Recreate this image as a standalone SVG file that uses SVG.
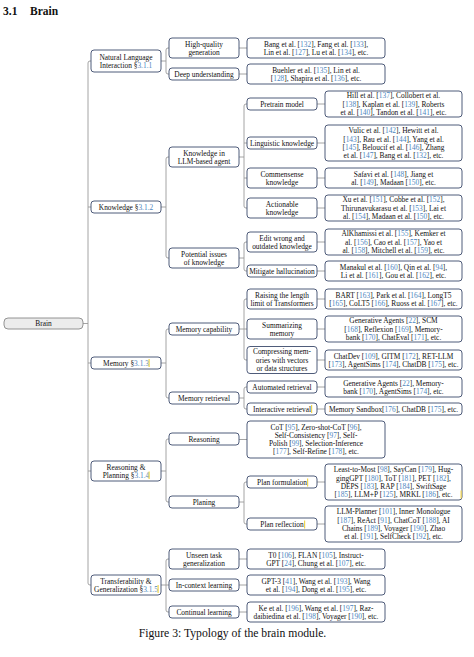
<svg xmlns="http://www.w3.org/2000/svg" width="474" height="657" viewBox="0 0 474 657">
<style>
text{font-family:"Liberation Serif","Times New Roman",serif;font-size:7.4px;fill:#111;text-anchor:middle}
.n rect{fill:#fff;stroke:#3b4a6b;stroke-width:0.9}
.c{fill:#4d86c0}
.k path{fill:none;stroke:#9a9a9a;stroke-width:0.9}
.n rect.hl{fill:#f3d54e;stroke:none}
.t{font-size:11.5px;font-weight:bold;text-anchor:start}
.cap{font-size:11.7px}
</style>
<rect width="474" height="657" fill="#fff"/>
<text class="t" x="3" y="15">3.1</text><text class="t" x="30" y="15">Brain</text>
<text class="cap" x="232.5" y="637">Figure 3: Typology of the brain module.</text>

<g class="k" id="connectors">
<path d="M83 323.5H88"/>
<path d="M91 61H90Q88 61 88 63V583Q88 585 90 585H91M88 207H91M88 363H91M88 471H91"/>
<path d="M161 61H166M169 48H168Q166 48 166 50V72Q166 74 168 74H169"/>
<path d="M161 207H166M169 157H168Q166 157 166 159V256Q166 258 168 258H169"/>
<path d="M161 363H166M169 329H168Q166 329 166 331V396Q166 398 168 398H169"/>
<path d="M161 471H166M169 439H168Q166 439 166 441V500Q166 502 168 502H169"/>
<path d="M161 585H166M169 559H168Q166 559 166 561V610Q166 612 168 612H169M166 585H169"/>
<path d="M239 48H247M239 74H247M239 439.5H247M239 559H247M239 585H247M239 612H247"/>
<path d="M239 157H244M247 104H246Q244 104 244 106V206Q244 208 246 208H247M244 143H247M244 178H247"/>
<path d="M239 258H244M247 242H246Q244 242 244 244V269Q244 271 246 271H247"/>
<path d="M239 329H244M247 299H246Q244 299 244 301V358Q244 360 246 360H247M244 329H247"/>
<path d="M239 398H244M247 387H246Q244 387 244 389V407Q244 409 246 409H247"/>
<path d="M239 502H244M247 482H246Q244 482 244 484V522Q244 524 246 524H247"/>
<path d="M317 104H325M317 143H325M317 178H325M317 208H325M317 242H325M317 271H325M317 299H325M317 329H325M317 360H325M317 387H325M317 409H325M317 482H325M317 524H325"/>
</g>

<g id="brain"><rect x="4" y="318" width="79" height="11" rx="4" fill="#ececec" stroke="#888" stroke-width="0.9"/><text x="43.5" y="326.2">Brain</text></g>

<g class="n" id="nli"><rect x="91" y="50" width="70" height="22" rx="3"/><text x="126"><tspan x="126" y="59.5">Natural Language</tspan><tspan x="126" y="67.7">Interaction §<tspan class="c">3.1.1</tspan></tspan></text></g>
<g class="n" id="knowledge"><rect x="91" y="201" width="70" height="12" rx="3"/><text x="126" y="209.6">Knowledge §<tspan class="c">3.1.2</tspan></text></g>
<g class="n" id="memory"><rect x="91" y="357" width="70" height="12" rx="3"/><text x="126" y="365.6">Memory §<tspan class="c">3.1.3</tspan></text><rect class="hl" x="148.5" y="359" width="1.2" height="8"/></g>
<g class="n" id="reasoning-planning"><rect x="91" y="461" width="70" height="20" rx="3"/><text x="126"><tspan x="126" y="469.5">Reasoning &amp;</tspan><tspan x="126" y="477.7">Planning §<tspan class="c">3.1.4</tspan></tspan></text><rect class="hl" x="148.5" y="471.5" width="1.2" height="7.5"/></g>
<g class="n" id="transfer"><rect x="91" y="575" width="70" height="20" rx="3"/><text x="126"><tspan x="126" y="583.5">Transferability &amp;</tspan><tspan x="126" y="591.7">Generalization §<tspan class="c">3.1.5</tspan></tspan></text><rect class="hl" x="157.5" y="585" width="1.2" height="8"/></g>

<g class="n" id="hq"><rect x="169" y="38" width="70" height="20" rx="3"/><text><tspan x="204" y="46.5">High-quality</tspan><tspan x="204" y="54.7">generation</tspan></text></g>
<g class="n" id="deep"><rect x="169" y="68" width="70" height="12" rx="3"/><text x="204" y="76.6">Deep understanding</text></g>
<g class="n" id="kllm"><rect x="169" y="147" width="70" height="20" rx="3"/><text><tspan x="204" y="155.5">Knowledge in</tspan><tspan x="204" y="163.7">LLM-based agent</tspan></text></g>
<g class="n" id="potential"><rect x="169" y="248" width="70" height="20" rx="3"/><text><tspan x="204" y="256.5">Potential issues</tspan><tspan x="204" y="264.7">of knowledge</tspan></text></g>
<g class="n" id="memcap"><rect x="169" y="323" width="70" height="12" rx="3"/><text x="204" y="331.6">Memory capability</text></g>
<g class="n" id="memret"><rect x="169" y="392" width="70" height="12" rx="3"/><text x="204" y="400.6">Memory retrieval</text></g>
<g class="n" id="reasoning"><rect x="169" y="433" width="70" height="12" rx="3"/><text x="204" y="441.6">Reasoning</text></g>
<g class="n" id="planing"><rect x="169" y="496" width="70" height="12" rx="3"/><text x="204" y="504.6">Planing</text></g>
<g class="n" id="unseen"><rect x="169" y="549" width="70" height="20" rx="3"/><text><tspan x="204" y="557.5">Unseen task</tspan><tspan x="204" y="565.7">generalization</tspan></text></g>
<g class="n" id="icl"><rect x="169" y="579" width="70" height="12" rx="3"/><text x="204" y="587.6">In-context learning</text></g>
<g class="n" id="continual"><rect x="169" y="606" width="70" height="12" rx="3"/><text x="204" y="614.6">Continual learning</text></g>

<g class="n" id="pretrain"><rect x="247" y="98" width="70" height="12" rx="3"/><text x="282" y="106.6">Pretrain model</text></g>
<g class="n" id="linguistic"><rect x="247" y="137" width="70" height="12" rx="3"/><text x="282" y="145.6">Linguistic knowledge</text></g>
<g class="n" id="commonsense"><rect x="247" y="168" width="70" height="20" rx="3"/><text><tspan x="282" y="176.5">Commensense</tspan><tspan x="282" y="184.7">knowledge</tspan></text></g>
<g class="n" id="actionable"><rect x="247" y="198" width="70" height="20" rx="3"/><text><tspan x="282" y="206.5">Actionable</tspan><tspan x="282" y="214.7">knowledge</tspan></text></g>
<g class="n" id="edit"><rect x="247" y="232" width="70" height="20" rx="3"/><text><tspan x="282" y="240.5">Edit wrong and</tspan><tspan x="282" y="248.7">outdated knowledge</tspan></text></g>
<g class="n" id="mitigate"><rect x="247" y="265" width="70" height="12" rx="3"/><text x="282" y="273.6">Mitigate hallucination</text></g>
<g class="n" id="raising"><rect x="247" y="289" width="70" height="20" rx="3"/><text><tspan x="282" y="297.5">Raising the length</tspan><tspan x="282" y="305.7">limit of Transformers</tspan></text></g>
<g class="n" id="summarizing"><rect x="247" y="319" width="70" height="20" rx="3"/><text><tspan x="282" y="327.5">Summarizing</tspan><tspan x="282" y="335.7">memory</tspan></text></g>
<g class="n" id="compressing"><rect x="247" y="346.5" width="70" height="27" rx="3"/><text><tspan x="282" y="354.4">Compressing mem-</tspan><tspan x="282" y="362.6">ories with vectors</tspan><tspan x="282" y="370.8">or data structures</tspan></text></g>
<g class="n" id="automated"><rect x="247" y="381" width="70" height="12" rx="3"/><text x="282" y="389.6">Automated retrieval</text></g>
<g class="n" id="interactive"><rect x="247" y="403" width="70" height="12" rx="3"/><text x="282" y="411.6">Interactive retrieval</text><rect class="hl" x="311" y="405" width="1.2" height="8"/></g>
<g class="n" id="planform"><rect x="247" y="476" width="70" height="12" rx="3"/><text x="282" y="484.6">Plan formulation</text><rect class="hl" x="307" y="478.5" width="1.2" height="8"/></g>
<g class="n" id="planrefl"><rect x="247" y="518" width="70" height="12" rx="3"/><text x="282" y="526.6">Plan reflection</text><rect class="hl" x="304" y="520.5" width="1.2" height="8"/></g>

<g class="n" id="leaf-hq"><rect x="247" y="38" width="138" height="20" rx="3"/><text><tspan x="316" y="46.5">Bang et al. [<tspan class="c">132</tspan>], Fang et al. [<tspan class="c">133</tspan>],</tspan><tspan x="316" y="54.7">Lin et al. [<tspan class="c">127</tspan>], Lu et al. [<tspan class="c">134</tspan>], etc.</tspan></text></g>
<g class="n" id="leaf-deep"><rect x="247" y="64" width="138" height="20" rx="3"/><text><tspan x="316" y="72.5">Buehler et al. [<tspan class="c">135</tspan>], Lin et al.</tspan><tspan x="316" y="80.7">[<tspan class="c">128</tspan>], Shapira et al. [<tspan class="c">136</tspan>], etc.</tspan></text></g>
<g class="n" id="leaf-reasoning"><rect x="247" y="421" width="138" height="37" rx="3"/><text><tspan x="316" y="429.8">CoT [<tspan class="c">95</tspan>], Zero-shot-CoT [<tspan class="c">96</tspan>],</tspan><tspan x="316" y="438">Self-Consistency [<tspan class="c">97</tspan>], Self-</tspan><tspan x="316" y="446.2">Polish [<tspan class="c">99</tspan>], Selection-Inference</tspan><tspan x="316" y="454.4">[<tspan class="c">177</tspan>], Self-Refine [<tspan class="c">178</tspan>], etc.</tspan></text></g>
<g class="n" id="leaf-unseen"><rect x="247" y="549" width="138" height="20" rx="3"/><text><tspan x="316" y="557.5">T0 [<tspan class="c">106</tspan>], FLAN [<tspan class="c">105</tspan>], Instruct-</tspan><tspan x="316" y="565.7">GPT [<tspan class="c">24</tspan>], Chung et al. [<tspan class="c">107</tspan>], etc.</tspan></text></g>
<g class="n" id="leaf-icl"><rect x="247" y="575" width="138" height="20" rx="3"/><text><tspan x="316" y="583.5">GPT-3 [<tspan class="c">41</tspan>], Wang et al. [<tspan class="c">193</tspan>], Wang</tspan><tspan x="316" y="591.7">et al. [<tspan class="c">194</tspan>], Dong et al. [<tspan class="c">195</tspan>], etc.</tspan></text></g>
<g class="n" id="leaf-continual"><rect x="247" y="602" width="138" height="20" rx="3"/><text><tspan x="316" y="610.5">Ke et al. [<tspan class="c">196</tspan>], Wang et al. [<tspan class="c">197</tspan>], Raz-</tspan><tspan x="316" y="618.7">daibiedina et al. [<tspan class="c">198</tspan>], Voyager [<tspan class="c">190</tspan>], etc.</tspan></text></g>

<g class="n" id="leaf-pretrain"><rect x="325" y="91" width="137" height="26" rx="3"/><text><tspan x="393.5" y="98.4">Hill et al. [<tspan class="c">137</tspan>], Collobert et al.</tspan><tspan x="393.5" y="106.6">[<tspan class="c">138</tspan>], Kaplan et al. [<tspan class="c">139</tspan>], Roberts</tspan><tspan x="393.5" y="114.8">et al. [<tspan class="c">140</tspan>], Tandon et al. [<tspan class="c">141</tspan>], etc.</tspan></text></g>
<g class="n" id="leaf-linguistic"><rect x="325" y="125" width="137" height="36" rx="3"/><text><tspan x="393.5" y="133.3">Vulic et al. [<tspan class="c">142</tspan>], Hewitt et al.</tspan><tspan x="393.5" y="141.5">[<tspan class="c">143</tspan>], Rau et al. [<tspan class="c">144</tspan>], Yang et al.</tspan><tspan x="393.5" y="149.7">[<tspan class="c">145</tspan>], Beloucif et al. [<tspan class="c">146</tspan>], Zhang</tspan><tspan x="393.5" y="157.9">et al. [<tspan class="c">147</tspan>], Bang et al. [<tspan class="c">132</tspan>], etc.</tspan></text></g>
<g class="n" id="leaf-commonsense"><rect x="325" y="168" width="137" height="20" rx="3"/><text><tspan x="393.5" y="176.5">Safavi et al. [<tspan class="c">148</tspan>], Jiang et</tspan><tspan x="393.5" y="184.7">al. [<tspan class="c">149</tspan>], Madaan [<tspan class="c">150</tspan>], etc.</tspan></text></g>
<g class="n" id="leaf-actionable"><rect x="325" y="195" width="137" height="26" rx="3"/><text><tspan x="393.5" y="202.4">Xu et al. [<tspan class="c">151</tspan>], Cobbe et al. [<tspan class="c">152</tspan>],</tspan><tspan x="393.5" y="210.6">Thirunavukarasu et al. [<tspan class="c">153</tspan>], Lai et</tspan><tspan x="393.5" y="218.8">al. [<tspan class="c">154</tspan>], Madaan et al. [<tspan class="c">150</tspan>], etc.</tspan></text></g>
<g class="n" id="leaf-edit"><rect x="325" y="229" width="137" height="26" rx="3"/><text><tspan x="393.5" y="236.4">AlKhamissi et al. [<tspan class="c">155</tspan>], Kemker et</tspan><tspan x="393.5" y="244.6">al. [<tspan class="c">156</tspan>], Cao et al. [<tspan class="c">157</tspan>], Yao et</tspan><tspan x="393.5" y="252.8">al. [<tspan class="c">158</tspan>], Mitchell et al. [<tspan class="c">159</tspan>], etc.</tspan></text></g>
<g class="n" id="leaf-mitigate"><rect x="325" y="261" width="137" height="20" rx="3"/><text><tspan x="393.5" y="269.5">Manakul et al. [<tspan class="c">160</tspan>], Qin et al. [<tspan class="c">94</tspan>],</tspan><tspan x="393.5" y="277.7">Li et al. [<tspan class="c">161</tspan>], Gou et al. [<tspan class="c">162</tspan>], etc.</tspan></text></g>
<g class="n" id="leaf-raising"><rect x="325" y="289" width="137" height="20" rx="3"/><text><tspan x="393.5" y="297.5">BART [<tspan class="c">163</tspan>], Park et al. [<tspan class="c">164</tspan>], LongT5</tspan><tspan x="393.5" y="305.7">[<tspan class="c">165</tspan>], CoLT5 [<tspan class="c">166</tspan>], Ruoss et al. [<tspan class="c">167</tspan>], etc.</tspan></text></g>
<g class="n" id="leaf-summarizing"><rect x="325" y="316" width="137" height="26" rx="3"/><text><tspan x="393.5" y="323.4">Generative Agents [<tspan class="c">22</tspan>], SCM</tspan><tspan x="393.5" y="331.6">[<tspan class="c">168</tspan>], Reflexion [<tspan class="c">169</tspan>], Memory-</tspan><tspan x="393.5" y="339.8">bank [<tspan class="c">170</tspan>], ChatEval [<tspan class="c">171</tspan>], etc.</tspan></text></g>
<g class="n" id="leaf-compressing"><rect x="325" y="350" width="137" height="20" rx="3"/><text><tspan x="393.5" y="358.5">ChatDev [<tspan class="c">109</tspan>], GITM [<tspan class="c">172</tspan>], RET-LLM</tspan><tspan x="393.5" y="366.7">[<tspan class="c">173</tspan>], AgentSims [<tspan class="c">174</tspan>], ChatDB [<tspan class="c">175</tspan>], etc.</tspan></text></g>
<g class="n" id="leaf-automated"><rect x="325" y="377" width="137" height="20" rx="3"/><text><tspan x="393.5" y="385.5">Generative Agents [<tspan class="c">22</tspan>], Memory-</tspan><tspan x="393.5" y="393.7">bank [<tspan class="c">170</tspan>], AgentSims [<tspan class="c">174</tspan>], etc.</tspan></text></g>
<g class="n" id="leaf-interactive"><rect x="325" y="403" width="137" height="12" rx="3"/><text x="393.5" y="411.6">Memory Sandbox[<tspan class="c">176</tspan>], ChatDB [<tspan class="c">175</tspan>], etc.</text></g>
<g class="n" id="leaf-planform"><rect x="325" y="464" width="137" height="36" rx="3"/><text><tspan x="393.5" y="472.3">Least-to-Most [<tspan class="c">98</tspan>], SayCan [<tspan class="c">179</tspan>], Hug-</tspan><tspan x="393.5" y="480.5">gingGPT [<tspan class="c">180</tspan>], ToT [<tspan class="c">181</tspan>], PET [<tspan class="c">182</tspan>],</tspan><tspan x="393.5" y="488.7">DEPS [<tspan class="c">183</tspan>], RAP [<tspan class="c">184</tspan>], SwiftSage</tspan><tspan x="393.5" y="496.9">[<tspan class="c">185</tspan>], LLM+P [<tspan class="c">125</tspan>], MRKL [<tspan class="c">186</tspan>], etc.</tspan></text><rect class="hl" x="460.5" y="490.5" width="1.2" height="8"/></g>
<g class="n" id="leaf-planrefl"><rect x="325" y="506" width="137" height="36" rx="3"/><text><tspan x="393.5" y="514.3">LLM-Planner [<tspan class="c">101</tspan>], Inner Monologue</tspan><tspan x="393.5" y="522.5">[<tspan class="c">187</tspan>], ReAct [<tspan class="c">91</tspan>], ChatCoT [<tspan class="c">188</tspan>], AI</tspan><tspan x="393.5" y="530.7">Chains [<tspan class="c">189</tspan>], Voyager [<tspan class="c">190</tspan>], Zhao</tspan><tspan x="393.5" y="538.9">et al. [<tspan class="c">191</tspan>], SelfCheck [<tspan class="c">192</tspan>], etc.</tspan></text></g>
</svg>
